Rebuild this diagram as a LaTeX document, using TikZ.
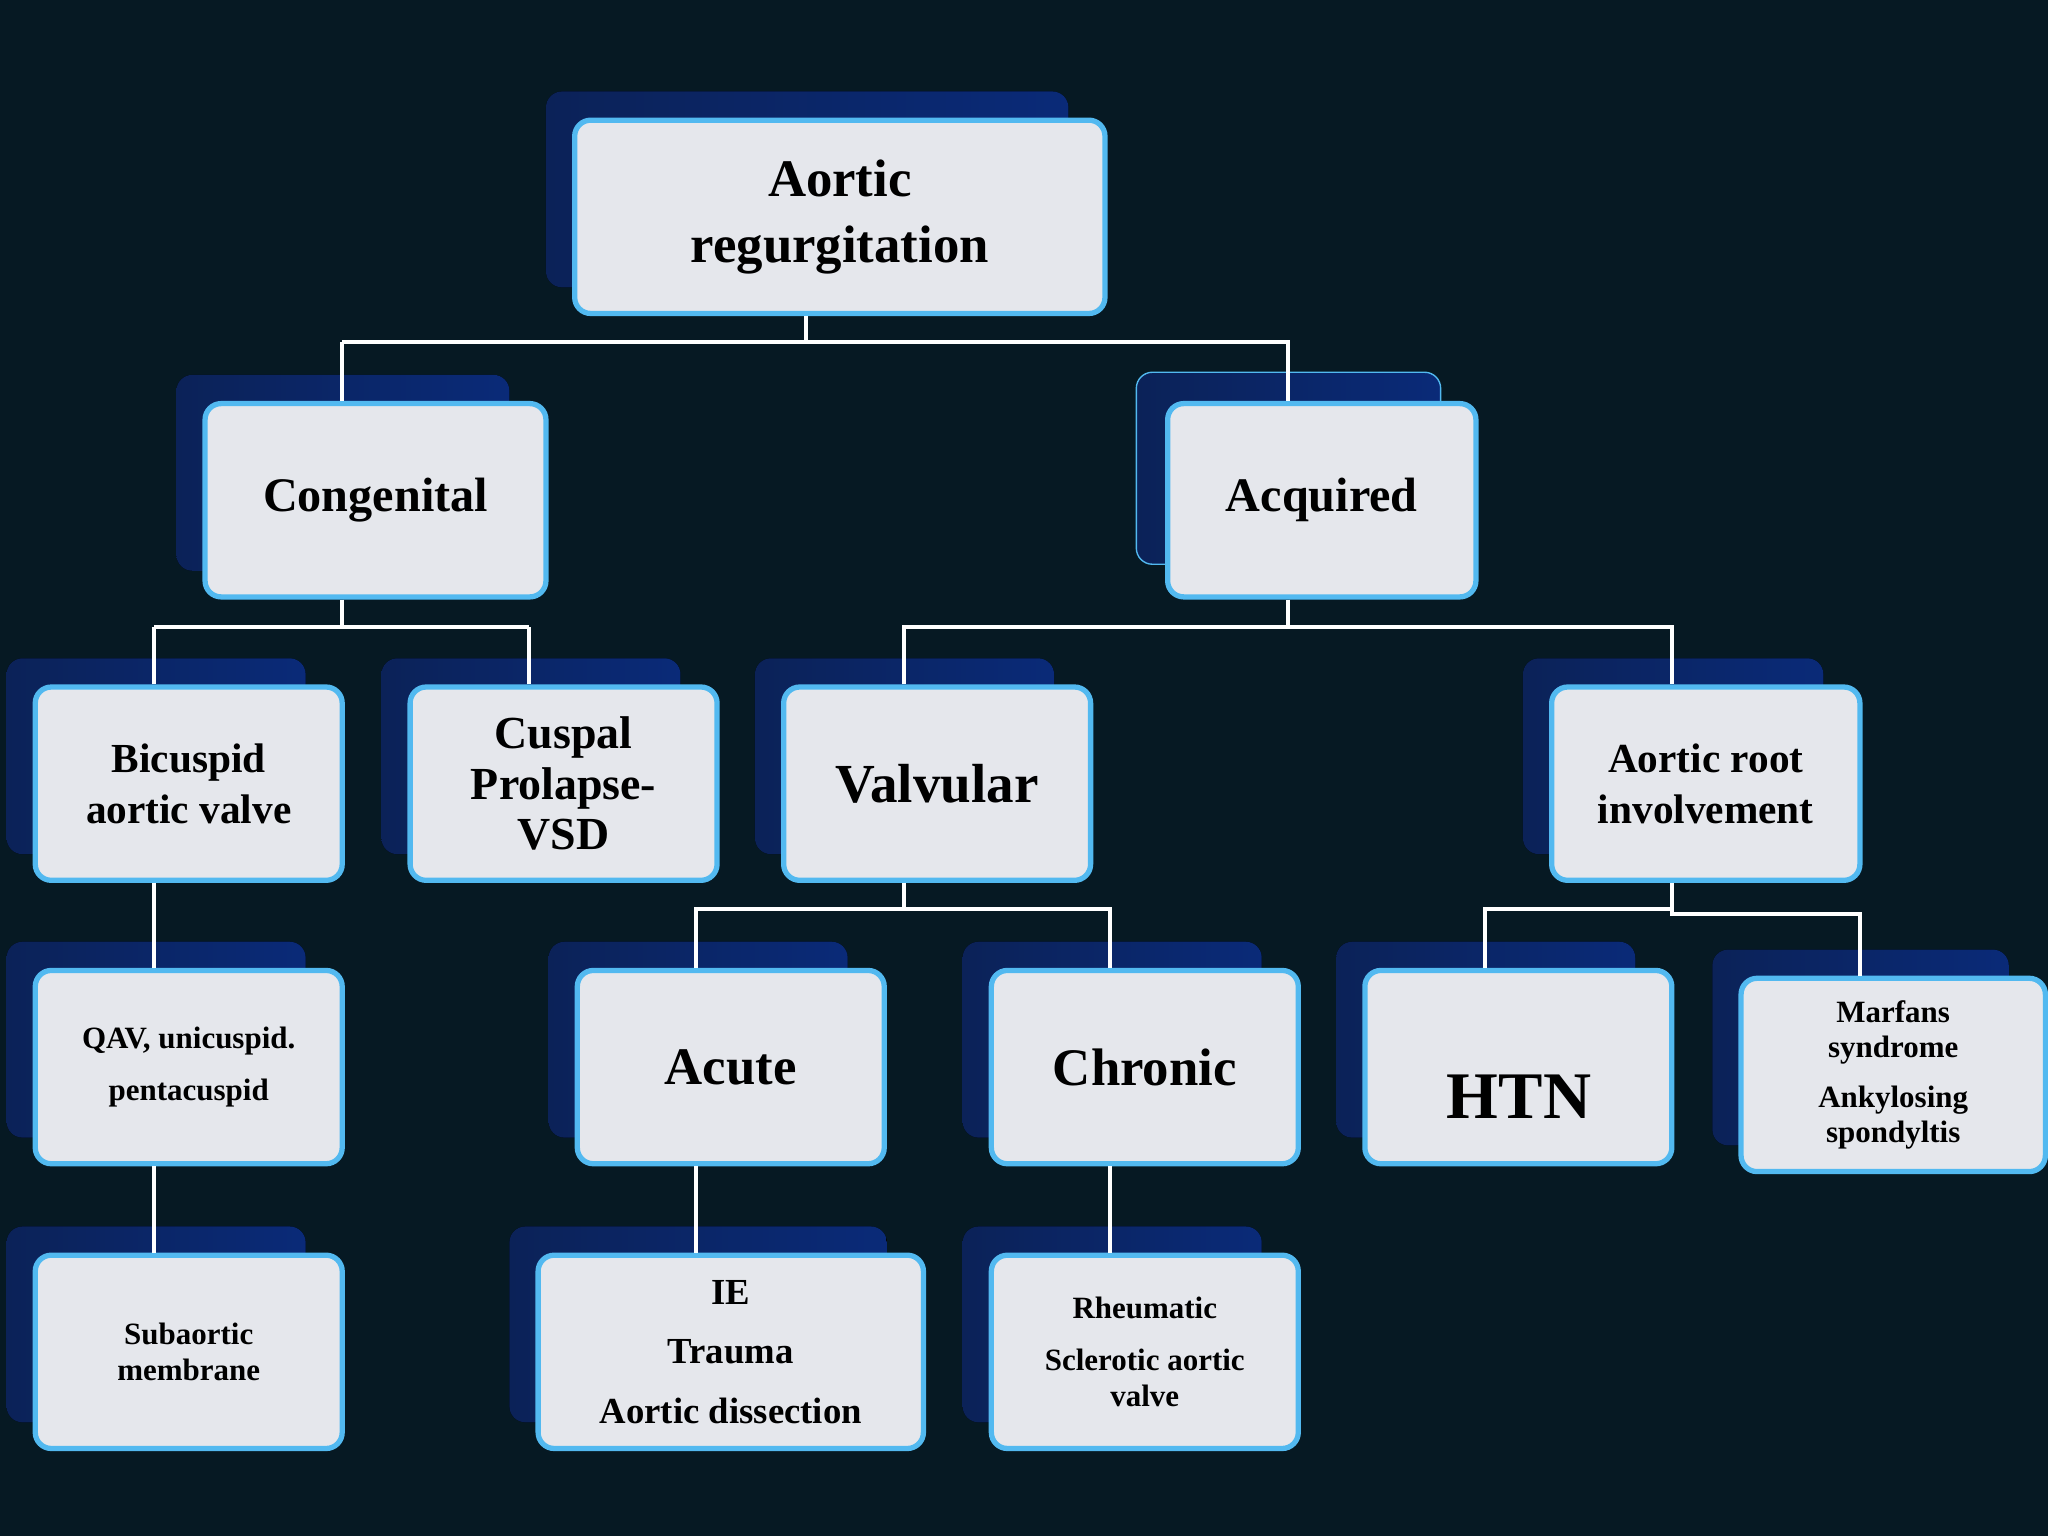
\documentclass[tikz,border=0pt]{standalone}
\usepackage{fontspec}
\setmainfont{Liberation Serif}
\usetikzlibrary{fit,calc}
\definecolor{bg}{HTML}{061923}
\definecolor{bfill}{HTML}{E5E7EC}
\definecolor{bline}{HTML}{52B9F0}
\definecolor{sh1}{HTML}{0A2A78}
\definecolor{sh2}{HTML}{0B2258}
\tikzset{
  box/.style={rectangle, rounded corners=7pt, draw=bline, line width=2.3pt, fill=bfill, inner sep=0pt},
  lbl/.style={align=center, text=black, inner sep=0pt},
  shad/.style={rounded corners=7pt, left color=sh2, right color=sh1},
  conn/.style={draw=white, line width=1.8pt}
}
\newcommand{\bxx}[8]{%
  \fill[shad] (#2-22,#3-22) rectangle (#4-28,#5-20);
  \node[box, fit={(#2,#3)(#4,#5)}] (#1) {};
  \node[lbl, font={\bfseries\fontsize{#6}{#7}\selectfont}] (#1t) at (#1.center) {#8};}
\begin{document}
\begin{tikzpicture}[x=0.02cm,y=-0.02cm]
\fill[bg] (0,0) rectangle (1568,1176);
\bxx{root}{440}{92}{846}{240}{23}{27}{Aortic\\[2pt] regurgitation}
\bxx{cong}{157}{309}{418}{457}{21}{24}{Congenital}
\fill[shad,draw=bline,line width=0.6pt] (870,285) rectangle (1103,432);
\node[box, fit={(894,309)(1130,457)}] (acq) {};
\node[lbl, font=\bfseries\fontsize{21}{24}\selectfont] at (acq.center) {Acquired};
\bxx{bic}{27}{526}{262}{674}{18}{21}{Bicuspid\\[1pt] aortic valve}
\bxx{cusp}{314}{526}{549}{674}{20}{22}{Cuspal\\ Prolapse-\\ VSD}
\bxx{valv}{600}{526}{835}{674}{24}{27}{Valvular}
\bxx{root2}{1188}{526}{1424}{674}{18}{21}{Aortic root\\[1pt] involvement}
\bxx{qav}{27}{743}{262}{891}{13.5}{15.5}{QAV, unicuspid.\\[7pt] pentacuspid}
\bxx{acute}{442}{743}{677}{891}{23}{26}{Acute}
\bxx{chron}{759}{743}{994}{891}{23}{26}{Chronic}
\bxx{htn}{1045}{743}{1280}{891}{29}{30}{}
\node[lbl, font=\bfseries\fontsize{29}{30}\selectfont] at (1163,840) {HTN};
\bxx{marf}{1333}{749}{1566}{897}{13.5}{15.5}{Marfans\\ syndrome\\[6pt] Ankylosing\\ spondyltis}
\bxx{sub}{27}{961}{262}{1109}{13.5}{15.5}{Subaortic\\ membrane}
\bxx{ie}{412}{961}{707}{1109}{16}{18}{IE\\[8pt] Trauma\\[8pt] Aortic dissection}
\bxx{rheu}{759}{961}{994}{1109}{13.5}{15.5}{Rheumatic\\[7pt] Sclerotic aortic\\ valve}
% connectors
\draw[conn] (root.south -| 617,0) -- (617,262);
\draw[conn] (262,262) -| (cong.north -| 262,0);
\draw[conn] (262,262) -- (986,262) -- (acq.north -| 986,0);
\draw[conn] (cong.south -| 262,0) -- (262,480);
\draw[conn] (118,480) -- (405,480);
\draw[conn] (bic.north -| 118,0) -- (118,480);
\draw[conn] (cusp.north -| 405,0) -- (405,480);
\draw[conn] (acq.south -| 986,0) -- (986,480);
\draw[conn] (valv.north -| 692,0) |- (986,480) -| (root2.north -| 1280,0);
\draw[conn] (bic.south -| 118,0) -- (qav.north -| 118,0);
\draw[conn] (qav.south -| 118,0) -- (sub.north -| 118,0);
\draw[conn] (valv.south -| 692,0) -- (692,696);
\draw[conn] (acute.north -| 533,0) |- (692,696) -| (chron.north -| 850,0);
\draw[conn] (acute.south -| 533,0) -- (ie.north -| 533,0);
\draw[conn] (chron.south -| 850,0) -- (rheu.north -| 850,0);
\draw[conn] (root2.south -| 1280,0) -- (1280,700) -- (1424,700) -- (marf.north -| 1424,0);
\draw[conn] (htn.north -| 1137,0) |- (1280,696);
\end{tikzpicture}
\end{document}
